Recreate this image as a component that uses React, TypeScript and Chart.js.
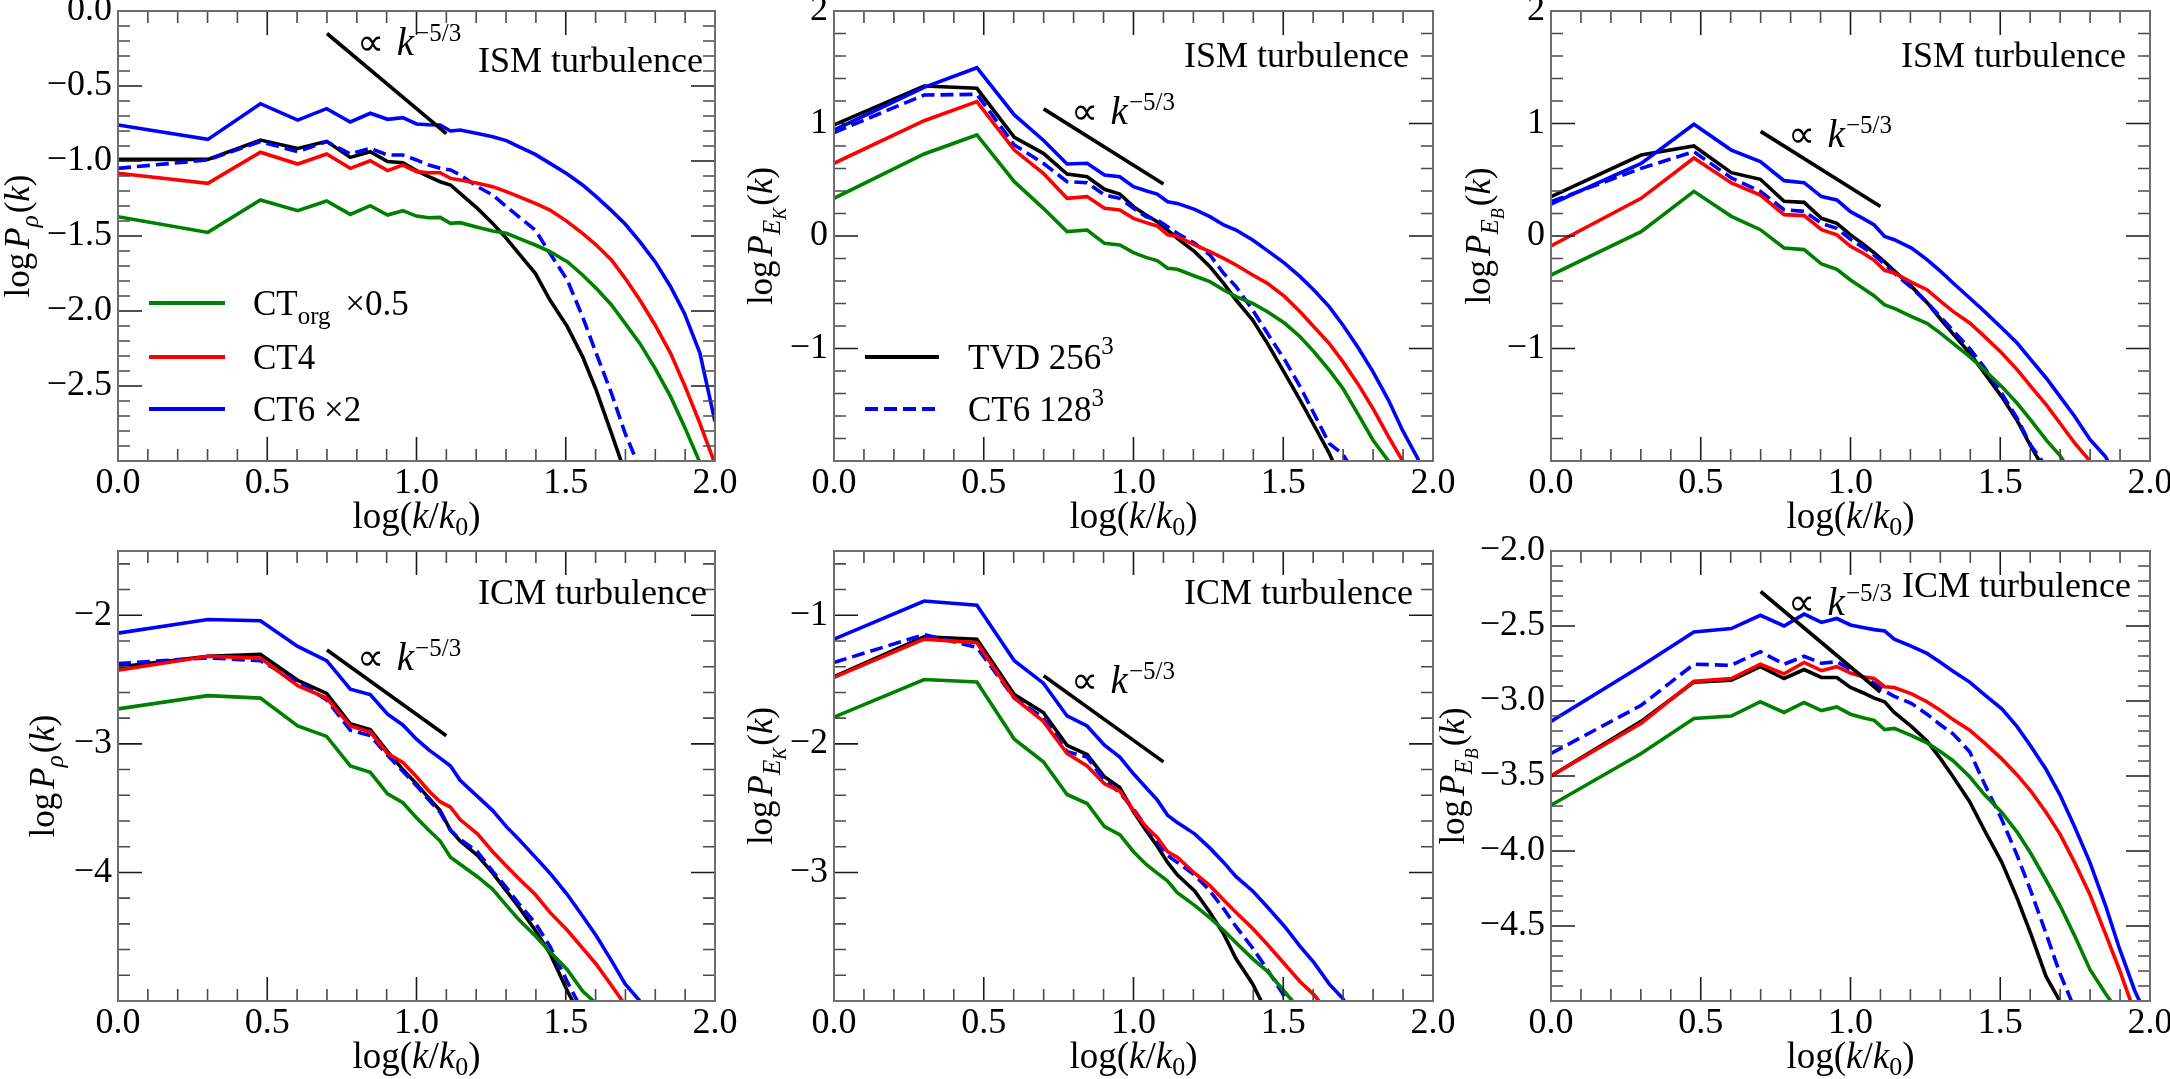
import React, { useEffect, useRef } from "react";
import { Chart, registerables } from "chart.js";

Chart.register(...registerables);

const SERIF = '"Liberation Serif", "Times New Roman", serif';
const FS = 35;
const TICK_FS = 36;

// wavenumbers k/k0 sampled, x = log(k/k0)
const K = [1, 2, 3, 4, 5, 6, 7, 8, 9, 10, 11, 12, 13, 14, 16, 18, 20, 22, 25, 28, 32, 36, 40, 45, 50, 56, 63, 71, 79, 89, 100];
const LOG_K = K.map((k) => Math.log10(k));
const SLOPE_X = [0.7, 1.1];

// ---------- ISM: log P_rho ----------
const ismRhoCT6 = [-0.76, -0.856, -0.618, -0.727, -0.651, -0.74, -0.682, -0.722, -0.711, -0.753, -0.758, -0.76, -0.8, -0.793, -0.816, -0.838, -0.864, -0.904, -0.956, -1.016, -1.087, -1.16, -1.238, -1.331, -1.42, -1.538, -1.671, -1.838, -2.016, -2.28, -2.738];
const ismRhoCT4 = [-1.082, -1.149, -0.942, -1.02, -0.953, -1.049, -0.998, -1.064, -1.027, -1.071, -1.078, -1.078, -1.116, -1.127, -1.149, -1.171, -1.204, -1.238, -1.282, -1.327, -1.404, -1.482, -1.56, -1.66, -1.782, -1.927, -2.093, -2.282, -2.493, -2.749, -3.02];
const ismRhoCTorg = [-1.371, -1.476, -1.26, -1.331, -1.267, -1.356, -1.298, -1.36, -1.331, -1.367, -1.378, -1.376, -1.416, -1.411, -1.442, -1.467, -1.482, -1.516, -1.56, -1.604, -1.671, -1.76, -1.849, -1.96, -2.082, -2.216, -2.382, -2.571, -2.771, -3.01, null];
const ismRhoCT6Res = [-1.049, -0.993, -0.871, -0.938, -0.871, -0.953, -0.916, -0.96, -0.96, -0.993, -1.027, -1.049, -1.06, -1.093, -1.171, -1.227, -1.304, -1.371, -1.46, -1.616, -1.793, -2.038, -2.282, -2.549, -2.816, -3.05, null, null, null, null, null];
const ismRhoTVD = [-0.989, -0.989, -0.86, -0.916, -0.869, -0.976, -0.938, -1.004, -1.011, -1.064, -1.104, -1.138, -1.16, -1.216, -1.316, -1.416, -1.516, -1.616, -1.749, -1.927, -2.104, -2.304, -2.527, -2.816, -3.08, null, null, null, null, null, null];
const ismRhoSlope = [-0.15, -0.817];

// ---------- ISM: log P_EK ----------
const ismEkCT6 = [0.942, 1.321, 1.496, 1.076, 0.851, 0.64, 0.646, 0.542, 0.527, 0.439, 0.403, 0.373, 0.305, 0.29, 0.237, 0.172, 0.098, 0.053, -0.036, -0.13, -0.243, -0.361, -0.48, -0.628, -0.791, -0.984, -1.206, -1.458, -1.724, -1.98, -2.4];
const ismEkCT4 = [0.646, 1.025, 1.194, 0.764, 0.557, 0.335, 0.35, 0.246, 0.231, 0.157, 0.119, 0.089, 0.01, -0.004, -0.079, -0.139, -0.199, -0.258, -0.347, -0.421, -0.539, -0.673, -0.806, -0.954, -1.117, -1.31, -1.532, -1.784, -1.996, -2.3, null];
const ismEkCTorg = [0.335, 0.729, 0.898, 0.483, 0.246, 0.039, 0.053, -0.065, -0.08, -0.148, -0.19, -0.219, -0.287, -0.296, -0.356, -0.406, -0.48, -0.539, -0.599, -0.673, -0.776, -0.895, -1.028, -1.191, -1.354, -1.576, -1.813, -2.0, -2.25, null, null];
const ismEkCT6Res = [0.919, 1.253, 1.259, 0.809, 0.646, 0.483, 0.474, 0.364, 0.335, 0.246, 0.172, 0.142, 0.083, 0.024, -0.065, -0.169, -0.332, -0.45, -0.658, -0.865, -1.102, -1.339, -1.576, -1.843, -1.94, -2.15, null, null, null, null, null];
const ismEkTVD = [0.987, 1.333, 1.313, 0.877, 0.735, 0.551, 0.527, 0.415, 0.373, 0.261, 0.187, 0.127, 0.053, -0.021, -0.139, -0.273, -0.421, -0.569, -0.747, -0.954, -1.221, -1.458, -1.68, -1.93, -2.2, null, null, null, null, null, null];
const ismEkSlope = [1.13, 0.463];

// ---------- ISM: log P_EB ----------
const ismEbCT6 = [0.284, 0.646, 0.993, 0.764, 0.661, 0.492, 0.474, 0.35, 0.32, 0.216, 0.157, 0.098, -0.004, -0.033, -0.107, -0.21, -0.314, -0.418, -0.551, -0.67, -0.818, -0.951, -1.099, -1.262, -1.425, -1.602, -1.809, -1.96, -2.2, null, null];
const ismEbCT4 = [-0.089, 0.335, 0.693, 0.471, 0.364, 0.19, 0.181, 0.056, 0.01, -0.092, -0.151, -0.216, -0.305, -0.329, -0.412, -0.477, -0.581, -0.67, -0.773, -0.892, -1.04, -1.188, -1.336, -1.499, -1.662, -1.84, -2.0, -2.25, null, null, null];
const ismEbCTorg = [-0.347, 0.039, 0.397, 0.175, 0.056, -0.107, -0.121, -0.249, -0.296, -0.391, -0.465, -0.533, -0.613, -0.643, -0.717, -0.776, -0.865, -0.954, -1.073, -1.191, -1.339, -1.487, -1.636, -1.813, -1.95, -2.15, null, null, null, null, null];
const ismEbCT6Res = [0.305, 0.601, 0.75, 0.516, 0.397, 0.234, 0.219, 0.113, 0.068, -0.03, -0.1, -0.17, -0.25, -0.33, -0.46, -0.59, -0.72, -0.84, -1.0, -1.17, -1.4, -1.62, -1.86, -2.05, null, null, null, null, null, null, null];
const ismEbTVD = [0.35, 0.72, 0.8, 0.563, 0.504, 0.308, 0.299, 0.157, 0.113, 0.01, -0.07, -0.15, -0.23, -0.31, -0.45, -0.59, -0.74, -0.87, -1.04, -1.22, -1.43, -1.64, -1.87, -2.1, null, null, null, null, null, null, null];
const ismEbSlope = [0.93, 0.263];

// ---------- ICM: log P_rho ----------
const icmRhoCT6 = [-2.139, -2.033, -2.042, -2.242, -2.353, -2.575, -2.617, -2.769, -2.853, -2.964, -3.047, -3.111, -3.172, -3.283, -3.408, -3.519, -3.644, -3.742, -3.881, -4.006, -4.172, -4.339, -4.492, -4.686, -4.867, -5.0, -5.25, null, null, null, null];
const icmRhoCT4 = [-2.428, -2.319, -2.333, -2.547, -2.644, -2.861, -2.908, -3.075, -3.144, -3.256, -3.367, -3.45, -3.492, -3.589, -3.7, -3.839, -3.95, -4.047, -4.172, -4.311, -4.45, -4.589, -4.714, -4.88, -5.03, null, null, null, null, null, null];
const icmRhoCTorg = [-2.728, -2.625, -2.644, -2.861, -2.942, -3.172, -3.222, -3.389, -3.458, -3.575, -3.672, -3.756, -3.881, -3.936, -4.033, -4.131, -4.256, -4.367, -4.492, -4.617, -4.756, -4.922, -5.02, null, null, null, null, null, null, null, null];
const icmRhoCT6Res = [-2.375, -2.331, -2.353, -2.519, -2.658, -2.894, -2.936, -3.089, -3.214, -3.325, -3.436, -3.533, -3.672, -3.742, -3.839, -3.992, -4.117, -4.242, -4.394, -4.575, -4.85, -5.08, null, null, null, null, null, null, null, null, null];
const icmRhoTVD = [-2.403, -2.319, -2.303, -2.506, -2.608, -2.844, -2.889, -3.061, -3.2, -3.311, -3.422, -3.519, -3.672, -3.756, -3.867, -4.006, -4.144, -4.269, -4.45, -4.63, -4.92, -5.15, null, null, null, null, null, null, null, null, null];
const icmRhoSlope = [-2.27, -2.937];

// ---------- ICM: log P_EK ----------
const icmEkCT6 = [-1.186, -0.889, -0.922, -1.353, -1.528, -1.783, -1.861, -2.011, -2.103, -2.233, -2.339, -2.436, -2.556, -2.611, -2.7, -2.811, -2.922, -3.033, -3.144, -3.269, -3.422, -3.575, -3.7, -3.867, -3.98, -4.2, null, null, null, null, null];
const icmEkCT4 = [-1.483, -1.186, -1.214, -1.644, -1.825, -2.075, -2.172, -2.311, -2.367, -2.519, -2.644, -2.728, -2.839, -2.881, -3.006, -3.103, -3.214, -3.311, -3.436, -3.561, -3.714, -3.85, -3.95, -4.1, null, null, null, null, null, null, null];
const icmEkCTorg = [-1.792, -1.5, -1.519, -1.964, -2.139, -2.394, -2.464, -2.644, -2.706, -2.839, -2.936, -3.006, -3.067, -3.158, -3.256, -3.353, -3.45, -3.547, -3.672, -3.769, -3.93, -4.07, null, null, null, null, null, null, null, null, null];
const icmEkCT6Res = [-1.367, -1.15, -1.25, -1.644, -1.797, -2.061, -2.103, -2.283, -2.381, -2.506, -2.644, -2.756, -2.867, -2.922, -3.019, -3.144, -3.283, -3.422, -3.589, -3.756, -3.97, -4.2, null, null, null, null, null, null, null, null, null];
const icmEkTVD = [-1.478, -1.167, -1.186, -1.617, -1.756, -2.011, -2.083, -2.256, -2.339, -2.528, -2.672, -2.797, -2.922, -3.019, -3.144, -3.311, -3.478, -3.672, -3.867, -4.1, null, null, null, null, null, null, null, null, null, null, null];
const icmEkSlope = [-1.47, -2.14];

// ---------- ICM: log P_EB ----------
const icmEbCT6 = [-3.136, -2.767, -2.54, -2.517, -2.429, -2.5, -2.421, -2.476, -2.45, -2.493, -2.51, -2.524, -2.533, -2.588, -2.636, -2.683, -2.743, -2.802, -2.874, -2.957, -3.052, -3.171, -3.302, -3.457, -3.624, -3.838, -4.076, -4.362, -4.648, -4.933, -5.15];
const icmEbCT4 = [-3.5, -3.148, -2.869, -2.85, -2.755, -2.819, -2.743, -2.798, -2.771, -2.814, -2.838, -2.85, -2.905, -2.91, -2.952, -3.005, -3.064, -3.124, -3.195, -3.279, -3.386, -3.493, -3.6, -3.743, -3.886, -4.076, -4.29, -4.552, -4.79, -5.08, null];
const icmEbCTorg = [-3.695, -3.35, -3.117, -3.1, -3.005, -3.076, -3.01, -3.064, -3.04, -3.088, -3.112, -3.129, -3.19, -3.183, -3.231, -3.279, -3.338, -3.398, -3.505, -3.624, -3.743, -3.874, -4.017, -4.195, -4.362, -4.564, -4.79, -4.95, -5.08, null, null];
const icmEbCT6Res = [-3.35, -3.029, -2.755, -2.762, -2.671, -2.755, -2.702, -2.748, -2.738, -2.79, -2.838, -2.881, -2.933, -2.969, -3.017, -3.088, -3.16, -3.219, -3.338, -3.552, -3.79, -4.029, -4.267, -4.552, -4.814, -5.05, null, null, null, null, null];
const icmEbTVD = [-3.5, -3.136, -2.874, -2.862, -2.771, -2.85, -2.79, -2.843, -2.843, -2.91, -2.945, -2.981, -3.005, -3.076, -3.171, -3.267, -3.386, -3.505, -3.671, -3.862, -4.076, -4.314, -4.552, -4.838, -5.0, -5.3, null, null, null, null, null];
const icmEbSlope = [-2.27, -2.94];

// ---------- styling ----------
const C_GREEN = "#008000";
const C_RED = "#ff0000";
const C_BLUE = "#0000ff";
const C_BLACK = "#000000";
const LW = 3.6;
const DASH = [13, 6];

const AXIS_W = 150;
const PAD_T = 40;
const PAD_R = 40;
const AXIS_H = 110;
const PLOT_H = 450;

type Part = { t: string; it?: boolean; s?: number; dy?: number; gap?: number };

function fontOf(p: Part) {
  return `${p.it ? "italic " : ""}${Math.round(FS * (p.s ?? 1))}px ${SERIF}`;
}

function drawRich(ctx: CanvasRenderingContext2D, parts: Part[], x: number, y: number, align: "left" | "center" | "right") {
  let w = 0;
  for (const p of parts) {
    ctx.font = fontOf(p);
    w += (p.gap ?? 0) + ctx.measureText(p.t).width;
  }
  let cx = align === "right" ? x - w : align === "center" ? x - w / 2 : x;
  ctx.textAlign = "left";
  ctx.textBaseline = "alphabetic";
  for (const p of parts) {
    ctx.font = fontOf(p);
    cx += p.gap ?? 0;
    ctx.fillText(p.t, cx, y + (p.dy ?? 0) * FS);
    cx += ctx.measureText(p.t).width;
  }
}

const titleRho: Part[] = [{ t: "log" }, { t: "P", it: true, gap: 4 }, { t: "ρ", it: true, s: 0.7, dy: 0.25 }, { t: "(", gap: 2 }, { t: "k", it: true }, { t: ")" }];
const titleEK: Part[] = [{ t: "log" }, { t: "P", it: true, gap: 4 }, { t: "E", it: true, s: 0.7, dy: 0.22 }, { t: "K", it: true, s: 0.5, dy: 0.4 }, { t: "(", gap: 2 }, { t: "k", it: true }, { t: ")" }];
const titleEB: Part[] = [{ t: "log" }, { t: "P", it: true, gap: 4 }, { t: "E", it: true, s: 0.7, dy: 0.22 }, { t: "B", it: true, s: 0.5, dy: 0.4 }, { t: "(", gap: 2 }, { t: "k", it: true }, { t: ")" }];
const xTitle: Part[] = [{ t: "log(", s: 1.06 }, { t: "k", it: true, s: 1.06 }, { t: "/", s: 1.06 }, { t: "k", it: true, s: 1.06 }, { t: "0", s: 0.74, dy: 0.2 }, { t: ")", s: 1.06 }];
const proptoText: Part[] = [{ t: "∝", s: 1.08 }, { t: "k", it: true, s: 1.12, gap: 13 }, { t: "−5/3", s: 0.7, dy: -0.4, gap: 1 }];

type LegendItem = { color: string; dash?: number[]; parts: Part[] };
const legendCT: LegendItem[] = [
  { color: C_GREEN, parts: [{ t: "CT" }, { t: "org", s: 0.7, dy: 0.25 }, { t: " ×0.5", gap: 6 }] },
  { color: C_RED, parts: [{ t: "CT4" }] },
  { color: C_BLUE, parts: [{ t: "CT6 ×2" }] },
];
const legendRes: LegendItem[] = [
  { color: C_BLACK, parts: [{ t: "TVD 256" }, { t: "3", s: 0.7, dy: -0.42 }] },
  { color: C_BLUE, dash: DASH, parts: [{ t: "CT6 128" }, { t: "3", s: 0.7, dy: -0.42 }] },
];

interface PanelCfg {
  left: number;
  top: number;
  width: number;
  yMin: number;
  yMax: number;
  yMajor: number;
  yMinor: number;
  yDec: number;
  ct6: (number | null)[];
  ct4: (number | null)[];
  org: (number | null)[];
  res: (number | null)[];
  tvd: (number | null)[];
  slope: number[];
  yTitle: Part[];
  yTitleDx: number;
  label: string;
  labelRight: number;
  labelBase: number;
  propto: [number, number];
  legend?: { items: LegendItem[]; x0: number; x1: number; tx: number; ys: number[] };
}

const PANELS: PanelCfg[] = [
  {
    left: 118, top: 11, width: 597, yMin: -3, yMax: 0, yMajor: 0.5, yMinor: 0.1, yDec: 1,
    ct6: ismRhoCT6, ct4: ismRhoCT4, org: ismRhoCTorg, res: ismRhoCT6Res, tvd: ismRhoTVD, slope: ismRhoSlope,
    yTitle: titleRho, yTitleDx: -98, label: "ISM turbulence", labelRight: 12, labelBase: 61, propto: [0.8, -0.293],
    legend: { items: legendCT, x0: 31, x1: 107, tx: 135, ys: [292, 346, 398] },
  },
  {
    left: 834, top: 11, width: 599, yMin: -2, yMax: 2, yMajor: 1, yMinor: 0.2, yDec: 0,
    ct6: ismEkCT6, ct4: ismEkCT4, org: ismEkCTorg, res: ismEkCT6Res, tvd: ismEkTVD, slope: ismEkSlope,
    yTitle: titleEK, yTitleDx: -71, label: "ISM turbulence", labelRight: 24, labelBase: 56, propto: [0.79, 1.0],
    legend: { items: legendRes, x0: 31, x1: 105, tx: 134, ys: [346, 398] },
  },
  {
    left: 1551, top: 11, width: 599, yMin: -2, yMax: 2, yMajor: 1, yMinor: 0.2, yDec: 0,
    ct6: ismEbCT6, ct4: ismEbCT4, org: ismEbCTorg, res: ismEbCT6Res, tvd: ismEbTVD, slope: ismEbSlope,
    yTitle: titleEB, yTitleDx: -70, label: "ISM turbulence", labelRight: 24, labelBase: 56, propto: [0.79, 0.79],
  },
  {
    left: 118, top: 551, width: 597, yMin: -5, yMax: -1.5, yMajor: 1, yMinor: 0.2, yDec: 0,
    ct6: icmRhoCT6, ct4: icmRhoCT4, org: icmRhoCTorg, res: icmRhoCT6Res, tvd: icmRhoTVD, slope: icmRhoSlope,
    yTitle: titleRho, yTitleDx: -73, label: "ICM turbulence", labelRight: 8, labelBase: 53, propto: [0.8, -2.425],
  },
  {
    left: 834, top: 551, width: 599, yMin: -4, yMax: -0.5, yMajor: 1, yMinor: 0.2, yDec: 0,
    ct6: icmEkCT6, ct4: icmEkCT4, org: icmEkCTorg, res: icmEkCT6Res, tvd: icmEkTVD, slope: icmEkSlope,
    yTitle: titleEK, yTitleDx: -71, label: "ICM turbulence", labelRight: 20, labelBase: 53, propto: [0.79, -1.605],
  },
  {
    left: 1551, top: 551, width: 599, yMin: -5, yMax: -2, yMajor: 0.5, yMinor: 0.1, yDec: 1,
    ct6: icmEbCT6, ct4: icmEbCT4, org: icmEbCTorg, res: icmEbCT6Res, tvd: icmEbTVD, slope: icmEbSlope,
    yTitle: titleEB, yTitleDx: -96, label: "ICM turbulence", labelRight: 19, labelBase: 46, propto: [0.79, -2.424],
  },
];

function fmt(v: number, d: number) {
  const a = Math.abs(v).toFixed(d);
  return (v < -1e-9 ? "−" : "") + a;
}

function pts(arr: (number | null)[]) {
  return LOG_K.map((x, i) => ({ x, y: arr[i] ?? null }));
}

function makePlugin(cfg: PanelCfg) {
  return {
    id: "decor",
    afterDraw(chart: any) {
      const { ctx, chartArea: a } = chart;
      const xs = chart.scales.x;
      const ys = chart.scales.y;
      ctx.save();
      ctx.lineCap = "butt";
      for (let i = 1; i < 20; i++) {
        const px = xs.getPixelForValue(i / 10);
        const major = i % 5 === 0;
        const len = major ? 24 : 12;
        ctx.strokeStyle = major ? "#1a1a1a" : "#4a4a4a";
        ctx.lineWidth = 1.6;
        ctx.beginPath();
        ctx.moveTo(px, a.bottom);
        ctx.lineTo(px, a.bottom - len);
        ctx.moveTo(px, a.top);
        ctx.lineTo(px, a.top + len);
        ctx.stroke();
      }
      const n = Math.round((cfg.yMax - cfg.yMin) / cfg.yMinor);
      for (let i = 1; i < n; i++) {
        const v = cfg.yMin + i * cfg.yMinor;
        const r = v / cfg.yMajor;
        const major = Math.abs(r - Math.round(r)) < 1e-6;
        const py = ys.getPixelForValue(v);
        const len = major ? 24 : 12;
        ctx.strokeStyle = major ? "#1a1a1a" : "#4a4a4a";
        ctx.lineWidth = 1.6;
        ctx.beginPath();
        ctx.moveTo(a.left, py);
        ctx.lineTo(a.left + len, py);
        ctx.moveTo(a.right, py);
        ctx.lineTo(a.right - len, py);
        ctx.stroke();
      }
      ctx.strokeStyle = "#6e6e6e";
      ctx.lineWidth = 2;
      ctx.strokeRect(a.left, a.top, a.right - a.left, a.bottom - a.top);

      ctx.fillStyle = "#000";
      ctx.save();
      ctx.translate(a.left + cfg.yTitleDx, (a.top + a.bottom) / 2);
      ctx.rotate(-Math.PI / 2);
      drawRich(ctx, cfg.yTitle, 0, 9, "center");
      ctx.restore();
      drawRich(ctx, xTitle, (a.left + a.right) / 2, a.bottom + 67, "center");
      drawRich(ctx, [{ t: cfg.label, s: 36 / 35 }], a.right - cfg.labelRight, a.top + cfg.labelBase, "right");
      drawRich(ctx, proptoText, xs.getPixelForValue(cfg.propto[0]), ys.getPixelForValue(cfg.propto[1]), "left");
      if (cfg.legend) {
        const L = cfg.legend;
        L.items.forEach((it, i) => {
          const y = a.top + L.ys[i];
          ctx.save();
          ctx.strokeStyle = it.color;
          ctx.lineWidth = 4;
          ctx.setLineDash(it.dash ?? []);
          ctx.beginPath();
          ctx.moveTo(a.left + L.x0, y);
          ctx.lineTo(a.left + L.x1, y);
          ctx.stroke();
          ctx.restore();
          ctx.fillStyle = "#000";
          drawRich(ctx, it.parts, a.left + L.tx, y + 12, "left");
        });
      }
      ctx.restore();
    },
  };
}

function Panel({ cfg }: { cfg: PanelCfg }) {
  const ref = useRef<HTMLCanvasElement>(null);
  const cw = cfg.width + AXIS_W + PAD_R;
  const ch = PLOT_H + PAD_T + AXIS_H;
  useEffect(() => {
    const canvas = ref.current;
    if (!canvas) return;
    const line = (data: (number | null)[], color: string, dash?: number[]) => ({
      data: pts(data),
      borderColor: color,
      backgroundColor: color,
      borderWidth: LW,
      borderDash: dash ?? [],
      pointRadius: 0,
      tension: 0,
      fill: false,
      spanGaps: false,
      clip: 0,
    });
    const chart = new Chart(canvas, {
      type: "line",
      data: {
        datasets: [
          { ...line([], C_BLACK), data: SLOPE_X.map((x, i) => ({ x, y: cfg.slope[i] })) },
          line(cfg.ct6, C_BLUE),
          line(cfg.ct4, C_RED),
          line(cfg.org, C_GREEN),
          line(cfg.res, C_BLUE, DASH),
          line(cfg.tvd, C_BLACK),
        ] as any,
      },
      options: {
        animation: false,
        responsive: false,
        maintainAspectRatio: false,
        devicePixelRatio: 1,
        events: [],
        layout: { padding: { left: 0, top: PAD_T, right: PAD_R, bottom: 0 } },
        plugins: { legend: { display: false }, tooltip: { enabled: false }, title: { display: false } },
        scales: {
          x: {
            type: "linear",
            min: 0,
            max: 2,
            afterFit: (s: any) => {
              s.height = AXIS_H;
            },
            grid: { display: false, drawTicks: false },
            border: { display: false },
            ticks: {
              stepSize: 0.5,
              autoSkip: false,
              maxRotation: 0,
              padding: 1,
              color: "#000",
              font: { family: SERIF, size: TICK_FS },
              callback: (v: any) => Number(v).toFixed(1),
            },
          },
          y: {
            type: "linear",
            min: cfg.yMin,
            max: cfg.yMax,
            afterFit: (s: any) => {
              s.width = AXIS_W;
            },
            grid: { display: false, drawTicks: false },
            border: { display: false },
            ticks: {
              stepSize: cfg.yMajor,
              autoSkip: false,
              padding: 6,
              color: "#000",
              font: { family: SERIF, size: TICK_FS },
              callback: (v: any) => {
                const val = Number(v);
                if (Math.abs(val - cfg.yMin) < 1e-9) return "";
                const r = val / cfg.yMajor;
                if (Math.abs(r - Math.round(r)) > 1e-6) return "";
                return fmt(val, cfg.yDec);
              },
            },
          },
        },
      } as any,
      plugins: [makePlugin(cfg)],
    });
    return () => chart.destroy();
  }, [cfg]);
  return (
    <canvas
      ref={ref}
      width={cw}
      height={ch}
      style={{ position: "absolute", left: cfg.left - AXIS_W, top: cfg.top - PAD_T, width: cw, height: ch }}
    />
  );
}

export default function App() {
  return (
    <div style={{ position: "absolute", left: 0, top: 0, width: 2170, height: 1079, overflow: "hidden", background: "#fff" }}>
      {PANELS.map((p, i) => (
        <Panel key={i} cfg={p} />
      ))}
    </div>
  );
}
